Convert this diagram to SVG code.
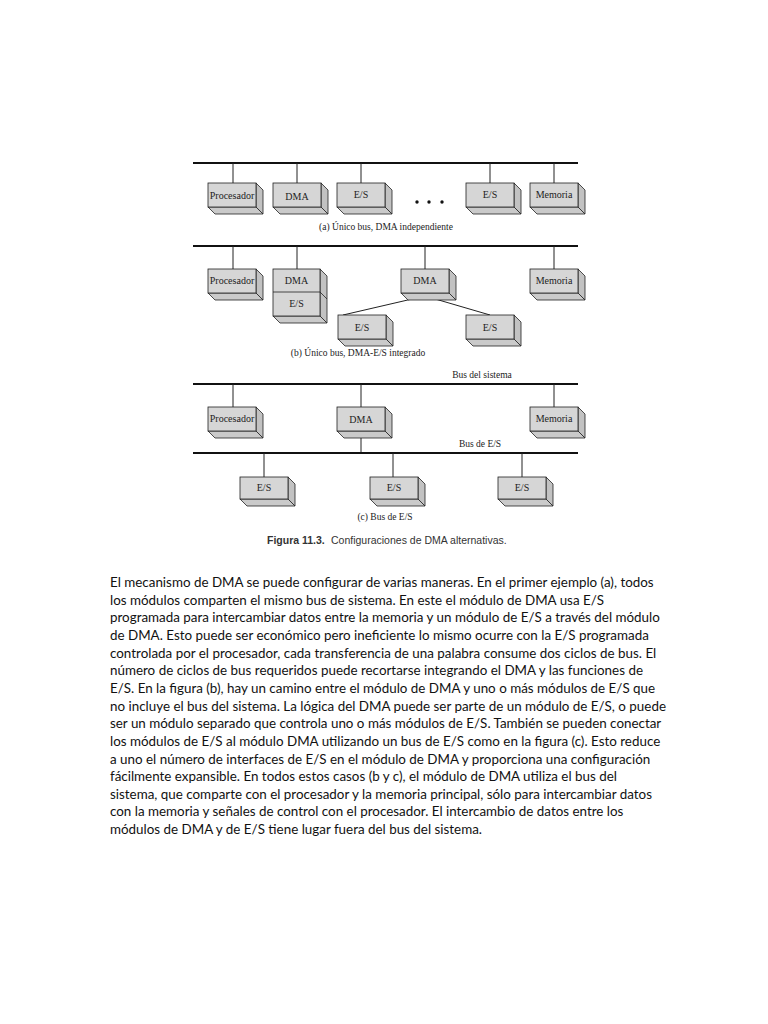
<svg xmlns="http://www.w3.org/2000/svg" xmlns:xlink="http://www.w3.org/1999/xlink" width="768" height="1024" viewBox="0 0 768 1024">
<style>
.bus{stroke:#111;stroke-width:2;fill:none}
.ln{stroke:#222;stroke-width:1;fill:none}
.fr{fill:#d6d6d6;stroke:#222;stroke-width:0.8}
.sd{fill:#c2c2c2;stroke:#222;stroke-width:0.8}
.bt{fill:#cacaca;stroke:#222;stroke-width:0.8}
.lb{font-family:"Liberation Serif","Times New Roman",serif;font-size:10px;fill:#222;text-anchor:middle}
.cap{font-family:"Liberation Serif","Times New Roman",serif;font-size:9.5px;fill:#222;text-anchor:middle}
.fig{font-family:"Liberation Sans",Arial,sans-serif;font-size:10.5px;fill:#333}
.p{font-family:Lato,"Liberation Sans",sans-serif;font-size:13.4px;fill:#111}
</style>
<defs>
<g id="b24">
<polygon class="sd" points="48,0 55,7 55,31 48,24"/>
<polygon class="bt" points="0,24 48,24 55,31 7,31"/>
<rect class="fr" x="0" y="0" width="48" height="24"/>
</g>
<g id="b22">
<polygon class="sd" points="48,0 55,7 55,29 48,22"/>
<polygon class="bt" points="0,22 48,22 55,29 7,29"/>
<rect class="fr" x="0" y="0" width="48" height="22"/>
</g>
<g id="b47">
<polygon class="sd" points="47,0 54,7 54,54 47,47"/>
<polygon class="bt" points="0,47 47,47 54,54 7,54"/>
<rect class="fr" x="0" y="0" width="47" height="47"/>
<line x1="0" y1="23" x2="47" y2="23" stroke="#222" stroke-width="0.8"/>
<line x1="47" y1="23" x2="54" y2="30" stroke="#222" stroke-width="0.8"/>
</g>
</defs>
<rect width="768" height="1024" fill="#fff"/>

<g id="connectors">
<!-- (a) -->
<line class="bus" x1="193" y1="163" x2="578" y2="163"/>
<line class="ln" x1="233" y1="163" x2="233" y2="183"/>
<line class="ln" x1="297" y1="163" x2="297" y2="183"/>
<line class="ln" x1="361" y1="163" x2="361" y2="183"/>
<line class="ln" x1="490" y1="163" x2="490" y2="183"/>
<line class="ln" x1="554" y1="163" x2="554" y2="183"/>
<!-- (b) -->
<line class="bus" x1="193" y1="246" x2="578" y2="246"/>
<line class="ln" x1="233" y1="246" x2="233" y2="269"/>
<line class="ln" x1="297" y1="246" x2="297" y2="269"/>
<line class="ln" x1="425" y1="246" x2="425" y2="269"/>
<line class="ln" x1="554" y1="246" x2="554" y2="269"/>
<line class="ln" x1="425" y1="296" x2="343" y2="315"/>
<line class="ln" x1="425" y1="296" x2="490" y2="315"/>
<!-- (c) -->
<line class="bus" x1="193" y1="384" x2="578" y2="384"/>
<line class="ln" x1="233" y1="384" x2="233" y2="407"/>
<line class="ln" x1="361" y1="384" x2="361" y2="407"/>
<line class="ln" x1="554" y1="384" x2="554" y2="407"/>
<line class="ln" x1="361" y1="438" x2="361" y2="453"/>
<line class="bus" x1="193" y1="453" x2="578" y2="453"/>
<line class="ln" x1="264" y1="453" x2="264" y2="477"/>
<line class="ln" x1="393" y1="453" x2="393" y2="477"/>
<line class="ln" x1="522" y1="453" x2="522" y2="477"/>
</g>

<!-- (a) nodes -->
<g id="a-proc" transform="translate(208,183)"><use xlink:href="#b24"/><text class="lb" x="24" y="16" font-size="9.5">Procesador</text></g>
<g id="a-dma" transform="translate(273,183)"><use xlink:href="#b24"/><text class="lb" x="24" y="17">DMA</text></g>
<g id="a-es1" transform="translate(337,183)"><use xlink:href="#b24"/><text class="lb" x="24" y="15">E/S</text></g>
<g id="a-dots"><circle cx="417" cy="202" r="1.7" fill="#111"/><circle cx="429" cy="202" r="1.7" fill="#111"/><circle cx="442" cy="202" r="1.7" fill="#111"/></g>
<g id="a-es2" transform="translate(466,183)"><use xlink:href="#b24"/><text class="lb" x="24" y="15">E/S</text></g>
<g id="a-mem" transform="translate(530,183)"><use xlink:href="#b24"/><text class="lb" x="24" y="15">Memoria</text></g>
<text class="cap" x="386" y="230" font-size="10">(a) Único bus, DMA independiente</text>

<!-- (b) nodes -->
<g id="b-proc" transform="translate(208,269)"><use xlink:href="#b24"/><text class="lb" x="24" y="15" font-size="9.5">Procesador</text></g>
<g id="b-dmaes" transform="translate(273,269)"><use xlink:href="#b47"/><text class="lb" x="23.5" y="15">DMA</text><text class="lb" x="23.5" y="38">E/S</text></g>
<g id="b-dma" transform="translate(401,269)"><use xlink:href="#b24"/><text class="lb" x="24" y="15">DMA</text></g>
<g id="b-mem" transform="translate(530,269)"><use xlink:href="#b24"/><text class="lb" x="24" y="15">Memoria</text></g>
<g id="b-es1" transform="translate(338,315)"><use xlink:href="#b24"/><text class="lb" x="24" y="16">E/S</text></g>
<g id="b-es2" transform="translate(466,315)"><use xlink:href="#b24"/><text class="lb" x="24" y="16">E/S</text></g>
<text class="cap" x="358" y="356">(b) Único bus, DMA-E/S integrado</text>

<!-- (c) nodes -->
<text class="cap" x="482" y="378">Bus del sistema</text>
<g id="c-proc" transform="translate(208,407)"><use xlink:href="#b24"/><text class="lb" x="24" y="15" font-size="9.5">Procesador</text></g>
<g id="c-dma" transform="translate(337,407)"><use xlink:href="#b24"/><text class="lb" x="24" y="16">DMA</text></g>
<g id="c-mem" transform="translate(530,407)"><use xlink:href="#b24"/><text class="lb" x="24" y="15">Memoria</text></g>
<text class="cap" x="480" y="447">Bus de E/S</text>
<g id="c-es1" transform="translate(240,477)"><use xlink:href="#b22"/><text class="lb" x="24" y="14">E/S</text></g>
<g id="c-es2" transform="translate(370,477)"><use xlink:href="#b22"/><text class="lb" x="24" y="14">E/S</text></g>
<g id="c-es3" transform="translate(498,477)"><use xlink:href="#b22"/><text class="lb" x="24" y="14">E/S</text></g>
<text class="cap" x="385" y="520">(c) Bus de E/S</text>
<text class="fig" x="267" y="544"><tspan font-weight="bold">Figura 11.3.</tspan><tspan x="331">Configuraciones de DMA alternativas.</tspan></text>

<g id="paragraph">
<text class="p" x="110" y="587">El mecanismo de DMA se puede configurar de varias maneras. En el primer ejemplo (a), todos</text>
<text class="p" x="110" y="604.6">los módulos comparten el mismo bus de sistema. En este el módulo de DMA usa E/S</text>
<text class="p" x="110" y="622.3">programada para intercambiar datos entre la memoria y un módulo de E/S a través del módulo</text>
<text class="p" x="110" y="639.9">de DMA. Esto puede ser económico pero ineficiente lo mismo ocurre con la E/S programada</text>
<text class="p" x="110" y="657.6">controlada por el procesador, cada transferencia de una palabra consume dos ciclos de bus. El</text>
<text class="p" x="110" y="675.2">número de ciclos de bus requeridos puede recortarse integrando el DMA y las funciones de</text>
<text class="p" x="110" y="692.9">E/S. En la figura (b), hay un camino entre el módulo de DMA y uno o más módulos de E/S que</text>
<text class="p" x="110" y="710.5">no incluye el bus del sistema. La lógica del DMA puede ser parte de un módulo de E/S, o puede</text>
<text class="p" x="110" y="728.2">ser un módulo separado que controla uno o más módulos de E/S. También se pueden conectar</text>
<text class="p" x="110" y="745.8">los módulos de E/S al módulo DMA utilizando un bus de E/S como en la figura (c). Esto reduce</text>
<text class="p" x="110" y="763.5">a uno el número de interfaces de E/S en el módulo de DMA y proporciona una configuración</text>
<text class="p" x="110" y="781.1">fácilmente expansible. En todos estos casos (b y c), el módulo de DMA utiliza el bus del</text>
<text class="p" x="110" y="798.8">sistema, que comparte con el procesador y la memoria principal, sólo para intercambiar datos</text>
<text class="p" x="110" y="816.4">con la memoria y señales de control con el procesador. El intercambio de datos entre los</text>
<text class="p" x="110" y="834">módulos de DMA y de E/S tiene lugar fuera del bus del sistema.</text>
</g>
</svg>
